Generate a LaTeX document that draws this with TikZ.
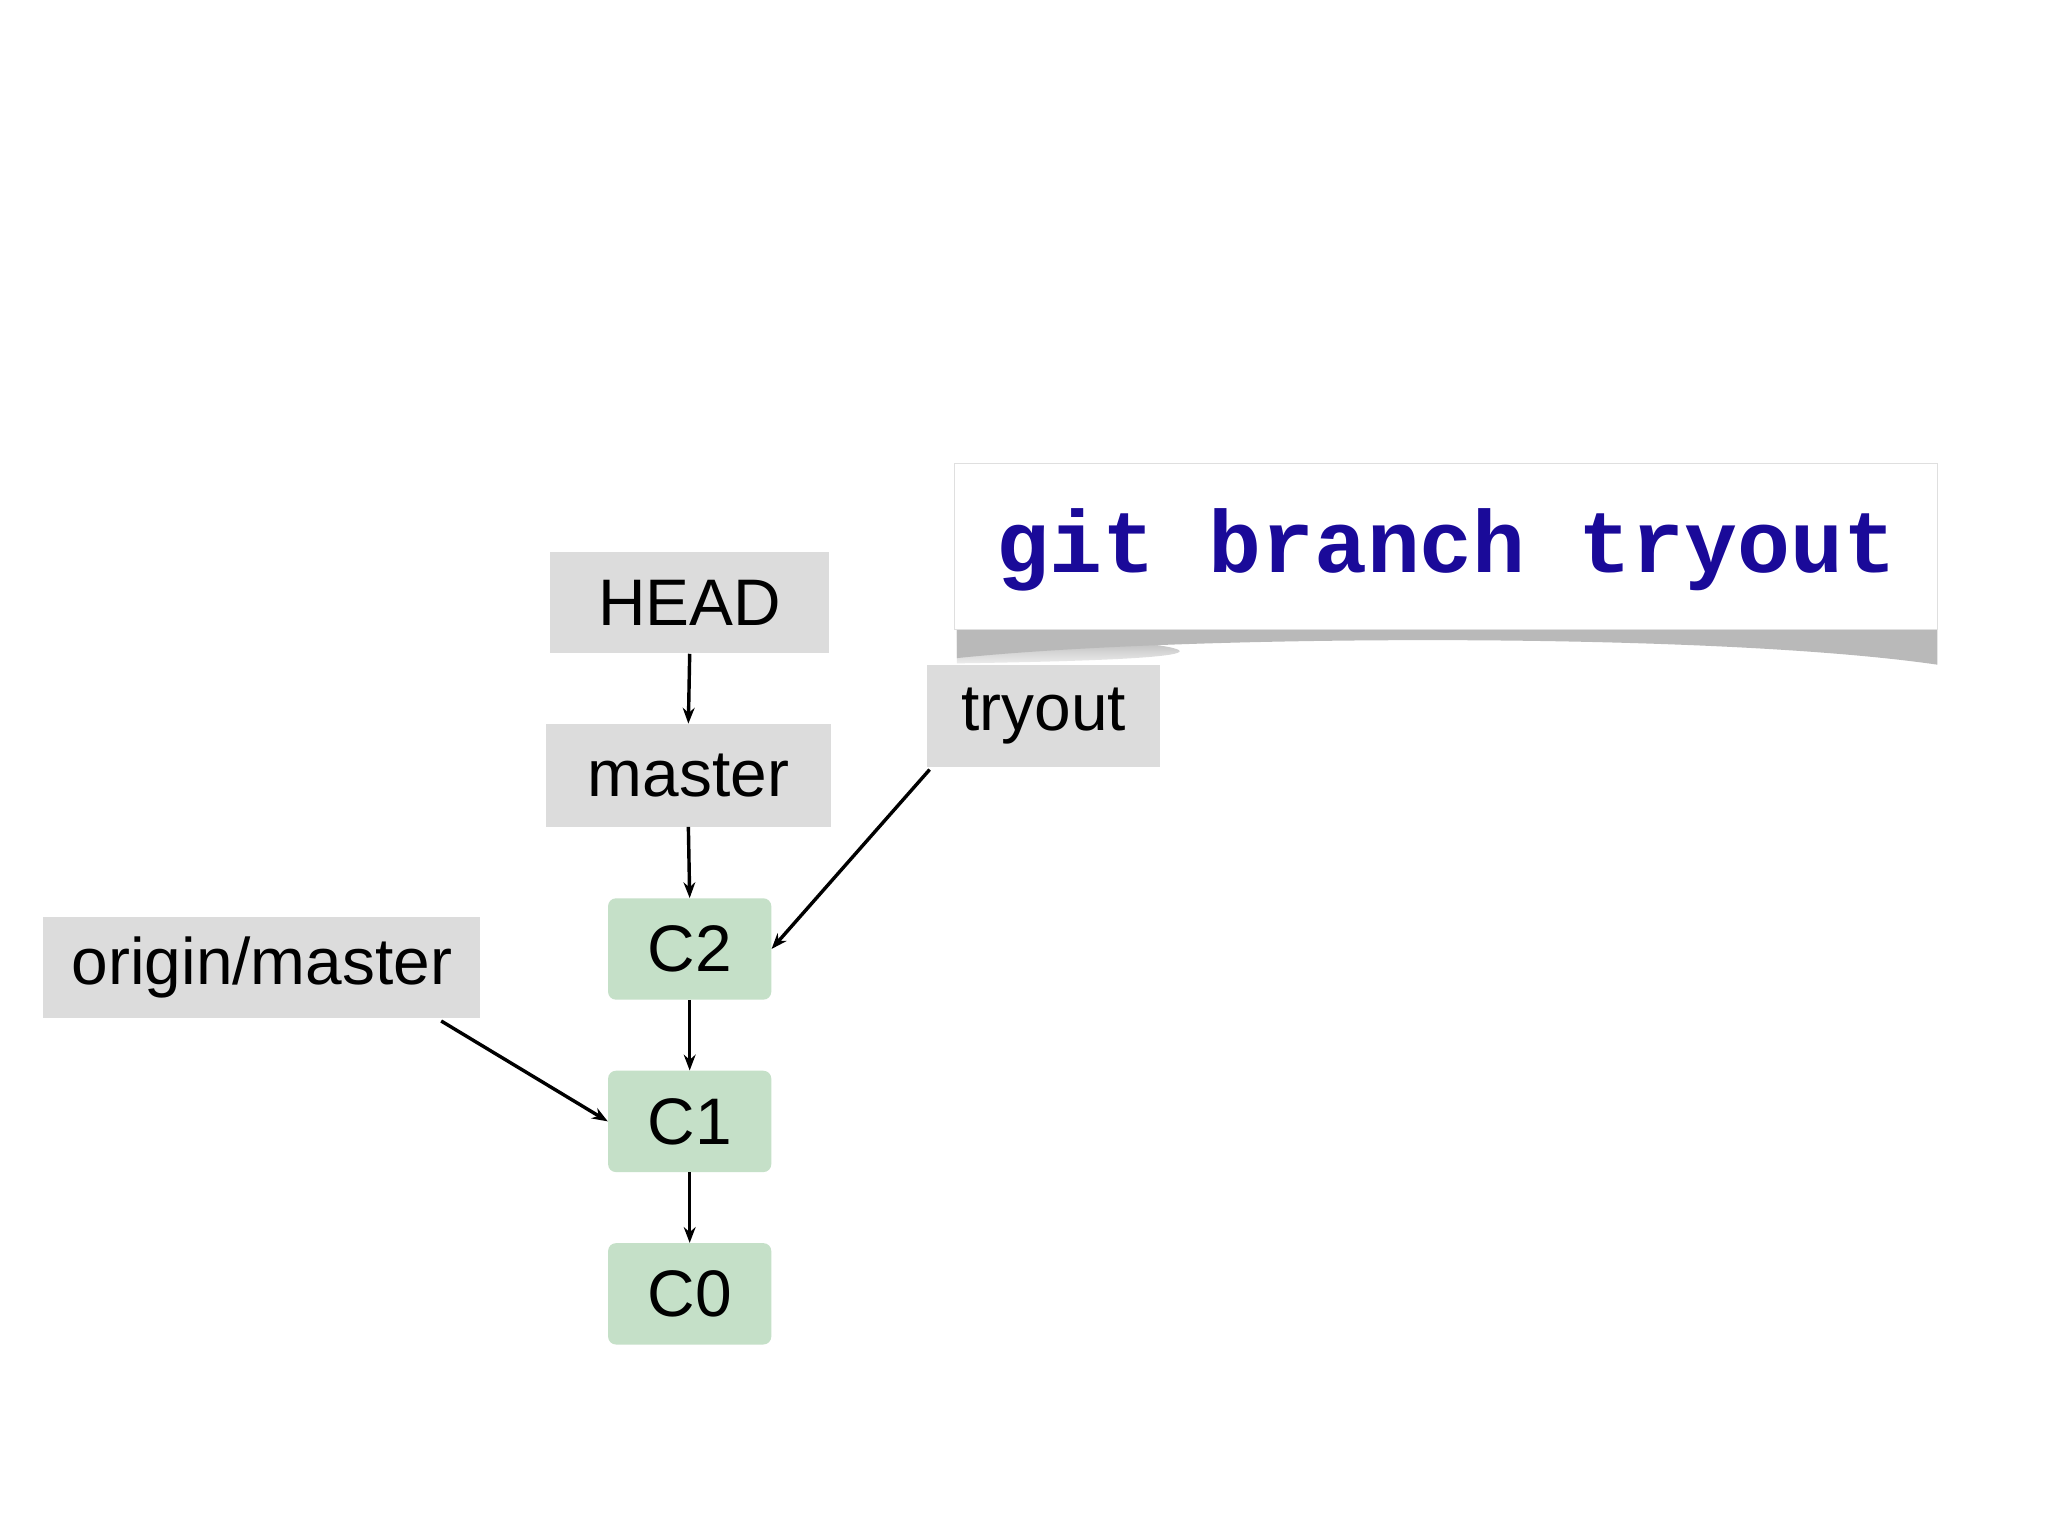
\documentclass[tikz,border=0pt]{standalone}
\usepackage{fontspec}
\setmainfont{Liberation Sans}
\newfontfamily\codefont{Liberation Mono}
\usetikzlibrary{arrows.meta}
\definecolor{lbl}{HTML}{DCDCDC}
\definecolor{cgreen}{HTML}{C5E0C8}
\definecolor{codeblue}{HTML}{1A0A99}
\begin{document}
\begin{tikzpicture}[x=1pt,y=-1pt,
  lab/.style={fill=lbl,inner sep=0pt,font=\fontsize{50}{56}\selectfont},
  com/.style={fill=cgreen,rounded corners=6pt,inner sep=0pt,minimum width=124pt,minimum height=77pt,font=\fontsize{50}{56}\selectfont},
  arr/.style={-{Stealth[length=12pt,width=9pt]},line width=2.6pt}]
\useasboundingbox (0,0) rectangle (1556,1167);
\fill[white] (0,0) rectangle (1556,1167);
% code box shadow
\shade[top color=gray!70,bottom color=gray!15] (727,478) .. controls (900,488) and (1000,500) .. (727,504) -- cycle;
\fill[gray!55] (727,470) -- (727,500) .. controls (900,482) and (1300,480) .. (1472,505) -- (1472,470) -- cycle;
\fill[white,draw=gray!25] (725,352) rectangle (1472,478);
\node[font=\codefont\bfseries\fontsize{67}{70}\selectfont,text=codeblue] (code) at (1099,418) {git branch tryout};
\node[lab,minimum width=212pt,minimum height=77pt] (head) at (524,458) {HEAD};
\node[lab,minimum width=217pt,minimum height=78pt] (master) at (523,589) {master};
\node[lab,minimum width=177pt,minimum height=77pt] (tryout) at (793,544) {tryout};
\node[lab,minimum width=332pt,minimum height=77pt] (origin) at (199,735) {origin/master};
\node[com] (c2) at (524,721) {C2};
\node[com] (c1) at (524,852) {C1};
\node[com] (c0) at (524,983) {C0};
\draw[arr] (head.south) -- (master.north);
\draw[arr] (master.south) -- (c2.north);
\draw[arr] (c2.south) -- (c1.north);
\draw[arr] (c1.south) -- (c0.north);
\draw[arr] (tryout.south west) ++(2,2) coordinate (t1) (t1) -- (c2.east);
\draw[arr] (origin.south east) ++(-30,2) coordinate (o1) (o1) -- (c1.west);
\end{tikzpicture}
\end{document}
